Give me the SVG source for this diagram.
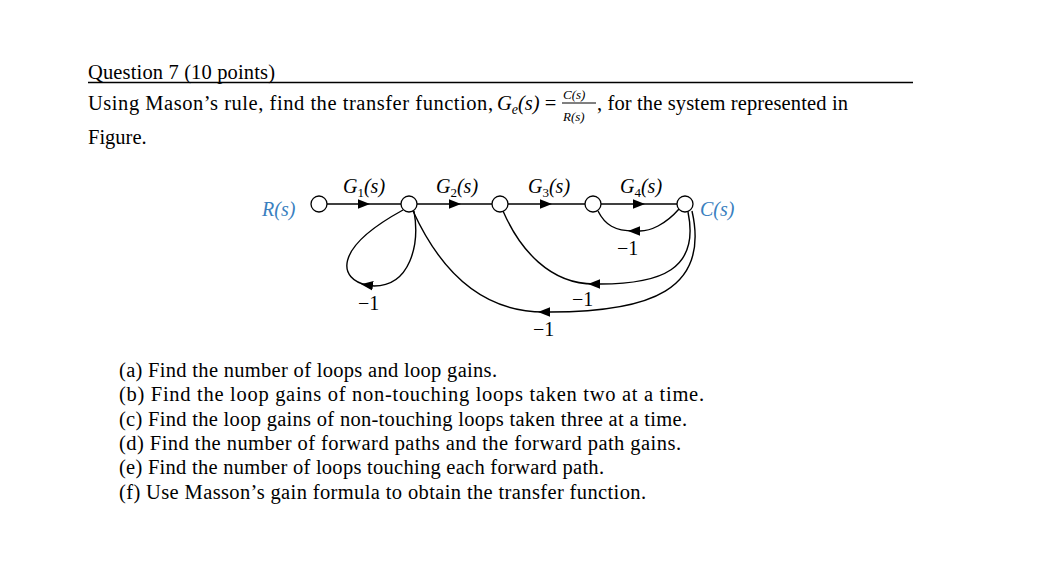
<svg xmlns="http://www.w3.org/2000/svg" width="1040" height="571" viewBox="0 0 1040 571">
<style>
.t{font-family:"Liberation Serif",serif;font-size:20.5px;fill:#000}
.m{font-family:"Liberation Serif",serif;font-style:italic;fill:#000}
.lab{font-family:"Liberation Serif",serif;font-size:20px;fill:#000}
.blue{font-family:"Liberation Serif",serif;font-size:20px;fill:#3a7fc0}
.n{fill:#fff;stroke:#000;stroke-width:1.3}
.e{fill:none;stroke:#000;stroke-width:1.4}
</style>
<defs><marker id="a" viewBox="0 0 10 10" refX="5" refY="5" markerWidth="12" markerHeight="12" markerUnits="userSpaceOnUse" orient="auto"><path d="M0,1 L10,5 L0,9 Z" fill="#000"/></marker></defs>
<rect width="1040" height="571" fill="#fff"/>
<text class="t" x="88" y="79" textLength="187">Question 7 (10 points)</text>
<line x1="88" y1="82.5" x2="913" y2="82.5" stroke="#000" stroke-width="1.5"/>
<text class="t" x="88" y="110" textLength="405">Using Mason’s rule, find the transfer function,</text>
<text class="m" x="497" y="110" font-size="20.5">G<tspan font-size="14" dy="4">e</tspan><tspan dy="-4">(s) </tspan><tspan font-style="normal">=</tspan></text>
<text class="m" x="563" y="99" font-size="13">C(s)</text>
<line x1="562" y1="103" x2="596" y2="103" stroke="#000" stroke-width="1"/>
<text class="m" x="563" y="121" font-size="13">R(s)</text>
<text class="t" x="597" y="110" textLength="251">, for the system represented in</text>
<text class="t" x="88" y="144">Figure.</text>
<g id="connectors">
<path class="e" d="M327,204 L364,204 L401,204" marker-mid="url(#a)"/>
<path class="e" d="M417,204 L455,204 L492,204" marker-mid="url(#a)"/>
<path class="e" d="M508,204 L546,204 L585,204" marker-mid="url(#a)"/>
<path class="e" d="M601,204 L639,204 L677,204" marker-mid="url(#a)"/>
<path class="e" d="M414,211 C420,245 410,286 374,286"/>
<path class="e" d="M374,286 L367,285" marker-end="url(#a)"/>
<path class="e" d="M367,285 C340,280 330,250 403,210"/>
<path class="e" d="M679,209 C665,225 650,231 640,231 L634,231" marker-end="url(#a)"/>
<path class="e" d="M634,231 C615,231 605,225 598,211"/>
<path class="e" d="M688,212 C700,270 660,284 600,284 L594,284" marker-end="url(#a)"/>
<path class="e" d="M594,284 C550,284 520,250 503,211"/>
<path class="e" d="M692,211 C710,290 650,312 550,312 L544,312" marker-end="url(#a)"/>
<path class="e" d="M544,312 C480,312 440,270 413,211"/>
</g>
<g id="R"><circle class="n" cx="319" cy="204" r="8"/></g>
<g id="N1"><circle class="n" cx="409" cy="204" r="8"/></g>
<g id="N2"><circle class="n" cx="500" cy="204" r="8"/></g>
<g id="N3"><circle class="n" cx="593" cy="204" r="8"/></g>
<g id="C"><circle class="n" cx="685" cy="204" r="8"/></g>
<text class="blue" x="262" y="216" font-style="italic">R(s)</text>
<text class="blue" x="700" y="216" font-style="italic">C(s)</text>
<g class="lab" font-style="italic">
<text x="343" y="193">G<tspan font-size="13" dy="4" font-style="normal">1</tspan><tspan dy="-4">(s)</tspan></text>
<text x="436" y="193">G<tspan font-size="13" dy="4" font-style="normal">2</tspan><tspan dy="-4">(s)</tspan></text>
<text x="528" y="193">G<tspan font-size="13" dy="4" font-style="normal">3</tspan><tspan dy="-4">(s)</tspan></text>
<text x="620" y="193">G<tspan font-size="13" dy="4" font-style="normal">4</tspan><tspan dy="-4">(s)</tspan></text>
</g>
<g class="lab" font-size="17">
<text x="617" y="255">−1</text>
<text x="572" y="306">−1</text>
<text x="358" y="310">−1</text>
<text x="533" y="336">−1</text>
</g>
<g class="t">
<text x="119" y="377" textLength="378">(a) Find the number of loops and loop gains.</text>
<text x="119" y="401" textLength="585">(b) Find the loop gains of non-touching loops taken two at a time.</text>
<text x="119" y="426" textLength="568">(c) Find the loop gains of non-touching loops taken three at a time.</text>
<text x="119" y="450" textLength="562">(d) Find the number of forward paths and the forward path gains.</text>
<text x="119" y="474" textLength="485">(e) Find the number of loops touching each forward path.</text>
<text x="119" y="499" textLength="527">(f)  Use Masson’s gain formula to obtain the transfer function.</text>
</g>
</svg>
